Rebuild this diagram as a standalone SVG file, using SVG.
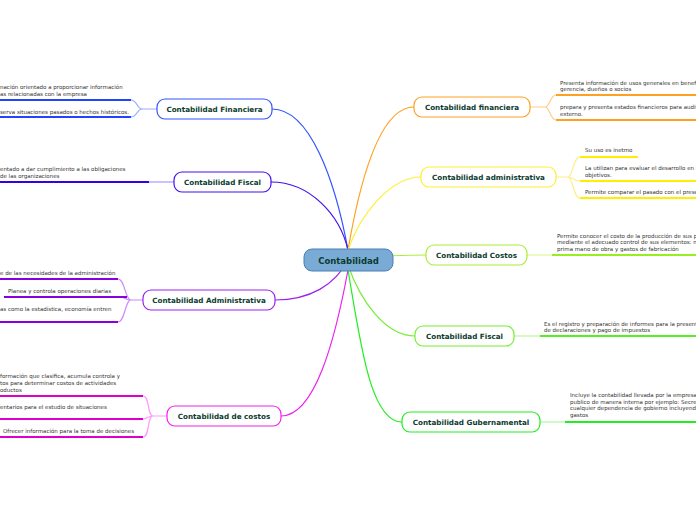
<svg xmlns="http://www.w3.org/2000/svg" width="696" height="520" viewBox="0 0 696 520">
<style>
.n{fill:#fff;stroke-width:1.2}
.nt{font-family:"DejaVu Sans",sans-serif;font-size:7.2px;font-weight:bold;fill:#0b3b2e;text-anchor:middle}
.l{font-family:"DejaVu Sans",sans-serif;font-size:5.5px;fill:#333}
.c{fill:none;stroke-width:1.2}
.u{fill:none;stroke-width:1.8}
</style>
<rect width="696" height="520" fill="#fff"/>
<g id="connectors">
<path class="c" stroke="#3355ff" d="M348,250 C335,180 310,109 272,109"/>
<path class="c" stroke="#4411ee" d="M348,250 C340,215 310,182 271,182"/>
<path class="c" stroke="#9922ee" d="M348,260 C335,285 310,300 275,300"/>
<path class="c" stroke="#ee22ee" d="M348,270 C335,340 315,416 281,416"/>
<path class="c" stroke="#ffa020" d="M348,250 C360,180 380,107 414,107"/>
<path class="c" stroke="#ffee33" d="M348,250 C360,215 390,177 421,177"/>
<path class="c" stroke="#aaee33" d="M348,258 C380,256 400,255 426,255"/>
<path class="c" stroke="#77ee33" d="M348,265 C360,300 385,336 415,336"/>
<path class="c" stroke="#22ee22" d="M348,270 C360,340 370,422 402,422"/>
<path class="c" stroke="#99aaff" d="M157,109 L142,109 C137,109 137,100 131,100 M142,109 C137,109 137,117 131,117"/>
<path class="u" stroke="#2244ff" d="M0,100 L131,100 M0,117 L131,117"/>
<path class="c" stroke="#aa99ff" d="M174,182 L149,182"/>
<path class="u" stroke="#3300ee" d="M0,182 L149,182"/>
<path class="c" stroke="#cc88ff" d="M143,300 L131,300 C125,300 125,279 118,279 M131,300 C125,300 125,297 120,297 M131,300 C125,300 125,322 118,322"/>
<path class="u" stroke="#8800dd" d="M0,279 L118,279 M4,297 L127,297 M0,322 L118,322"/>
<path class="c" stroke="#ff99ff" d="M167,416 L153,416 C147,416 150,396 143,396 M153,416 C147,416 148,419 143,419 M153,416 C147,416 150,437 143,437"/>
<path class="u" stroke="#dd00cc" d="M0,396 L143,396 M0,419 L143,419 M0,437 L143,437"/>
<path class="c" stroke="#ffcc88" d="M530,107 L545,107 C550,107 550,95 556,95 M545,107 C550,107 550,120 556,120"/>
<path class="u" stroke="#ffa020" d="M556,95 L696,95 M556,120 L696,120"/>
<path class="c" stroke="#ffee88" d="M556,177 L568,177 C573,177 573,157 580,157 M568,177 C573,177 573,181 580,181 M568,177 C573,177 573,198 580,198"/>
<path class="u" stroke="#ffee00" d="M580,157 L638,157 M580,181 L696,181 M580,198 L696,198"/>
<path class="c" stroke="#ddf799" d="M527,255 L552,255"/>
<path class="u" stroke="#99ee22" d="M552,255 L696,255"/>
<path class="c" stroke="#bbf799" d="M514,336 L540,336"/>
<path class="u" stroke="#55ee22" d="M540,336 L696,336"/>
<path class="c" stroke="#aaf7aa" d="M540,422 L565,422"/>
<path class="u" stroke="#22ee22" d="M565,422 L696,422"/>
</g>
<g id="center"><rect x="304" y="249" width="89" height="22" rx="8" fill="#7aaad6" stroke="#4a7fb5"/><text class="nt" x="348.5" y="263.5" style="font-size:8.5px">Contabilidad</text></g>
<g id="n-lfin"><rect class="n" x="157" y="99" width="115" height="20" rx="8" stroke="#3355ff"/><text class="nt" x="214.5" y="111.5">Contabilidad Financiera</text></g>
<g id="n-lfis"><rect class="n" x="174" y="172" width="97" height="20" rx="8" stroke="#4411ee"/><text class="nt" x="222.5" y="184.5">Contabilidad Fiscal</text></g>
<g id="n-ladm"><rect class="n" x="143" y="290" width="132" height="20" rx="8" stroke="#9922ee"/><text class="nt" x="209" y="302.5">Contabilidad Administrativa</text></g>
<g id="n-lcos"><rect class="n" x="167" y="406" width="114" height="20" rx="8" stroke="#ee22ee"/><text class="nt" x="224" y="418.5">Contabilidad de costos</text></g>
<g id="n-rfin"><rect class="n" x="414" y="97" width="116" height="20" rx="8" stroke="#ffa020"/><text class="nt" x="472" y="109.5">Contabilidad financiera</text></g>
<g id="n-radm"><rect class="n" x="421" y="167" width="135" height="20" rx="8" stroke="#ffee33"/><text class="nt" x="488.5" y="179.5">Contabilidad administrativa</text></g>
<g id="n-rcos"><rect class="n" x="426" y="245" width="101" height="20" rx="8" stroke="#aaee33"/><text class="nt" x="476.5" y="257.5">Contabilidad Costos</text></g>
<g id="n-rfis"><rect class="n" x="415" y="326" width="99" height="20" rx="8" stroke="#77ee33"/><text class="nt" x="464.5" y="338.5">Contabilidad Fiscal</text></g>
<g id="n-rgub"><rect class="n" x="402" y="412" width="138" height="20" rx="8" stroke="#22ee22"/><text class="nt" x="471" y="424.5">Contabilidad Gubernamental</text></g>
<g id="leaves">
<text class="l" x="0" y="89">nación orientado a proporcionar información</text>
<text class="l" x="0" y="96">as relacionadas con la empresa</text>
<text class="l" x="0" y="114">serva situaciones pasados o hechos históricos.</text>
<text class="l" x="0" y="171">entado a dar cumplimiento a las obligaciones</text>
<text class="l" x="0" y="178">de las organizaciones</text>
<text class="l" x="0" y="275">e de las necesidades de la administración</text>
<text class="l" x="8" y="293">Planea y controla operaciones diarias</text>
<text class="l" x="0" y="311">as como la estadística, economía entren</text>
<text class="l" x="0" y="378">formación que clasifica, acumula controla y</text>
<text class="l" x="0" y="385">tos para determinar costos de actividades</text>
<text class="l" x="0" y="392">oductos</text>
<text class="l" x="0" y="409">entarios para el estudio de situaciones</text>
<text class="l" x="3" y="433">Ofrecer información para la toma de decisiones</text>
<text class="l" x="560" y="85">Presenta información de usos generales en beneficio de la</text>
<text class="l" x="560" y="91">gerencia, dueños o socios</text>
<text class="l" x="560" y="109">prepara y presenta estados financieros para auditores</text>
<text class="l" x="560" y="116">externo.</text>
<text class="l" x="585" y="152">Su uso es inetmo</text>
<text class="l" x="585" y="170">La utilizan para evaluar el desarrollo en base a sus</text>
<text class="l" x="585" y="177">objetivos.</text>
<text class="l" x="585" y="194">Permite comparar el pasado con el presente</text>
<text class="l" x="557" y="238">Permite conocer el costo de la producción de sus productos</text>
<text class="l" x="557" y="244">mediante el adecuado control de sus elementos: materia</text>
<text class="l" x="557" y="251">prima mano de obra y gastos de fabricación</text>
<text class="l" x="544" y="326">Es el registro y preparación de informes para la presentación</text>
<text class="l" x="544" y="332">de declaraciones y pago de impuestos</text>
<text class="l" x="570" y="397">Incluye la contabilidad llevada por la empresa del sector</text>
<text class="l" x="570" y="404">publico de manera interna por ejemplo: Secretaría de</text>
<text class="l" x="570" y="410">cualquier dependencia de gobierno incluyendo ingresos y</text>
<text class="l" x="570" y="417">gastos</text>
</g>
</svg>
